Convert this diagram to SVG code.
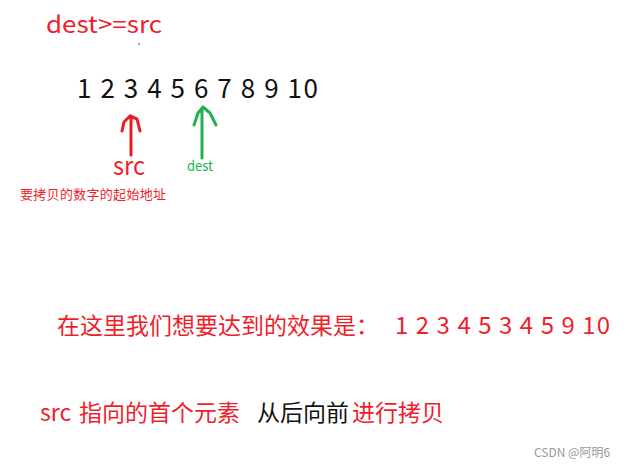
<svg xmlns="http://www.w3.org/2000/svg" width="629" height="468" viewBox="0 0 629 468">
<style>
text{font-family:"Noto Sans CJK SC","Noto Sans",sans-serif}
.red{fill:#f01e2c}
.blk{fill:#111}
.arr{fill:none;stroke-width:3;stroke-linecap:round;stroke-linejoin:round}
</style>
<rect width="629" height="468" fill="#fff"/>
<g id="title"><text class="red" x="46" y="33" font-size="23" textLength="116" lengthAdjust="spacingAndGlyphs">dest&gt;=src</text></g>
<circle cx="139" cy="44" r="0.8" fill="#333"/>
<g id="numbers"><text class="blk" x="77" y="98" font-size="26" textLength="241" lengthAdjust="spacing">1 2 3 4 5 6 7 8 9 10</text></g>
<g id="connectors">
<path class="arr" stroke="#ed1c24" d="M131 155V116M122 131L124 122L130 116L137 119L140 131"/>
<path class="arr" stroke="#22b14c" d="M202 158V108M194 125L198 113L203 107L210 113L216 125"/>
</g>
<g id="src"><text class="red" x="113" y="175" font-size="26" textLength="32" lengthAdjust="spacingAndGlyphs">src</text></g>
<g id="dest"><text x="187" y="171" font-size="14" fill="#22b14c" textLength="26" lengthAdjust="spacingAndGlyphs">dest</text></g>
<g id="note"><text class="red" x="20" y="199" font-size="13" textLength="146">要拷贝的数字的起始地址</text></g>
<g id="effect">
<text class="red" x="57" y="334" font-size="23">在这里我们想要达到的效果是：</text>
<text class="red" x="395" y="334" font-size="24" textLength="215" lengthAdjust="spacing">1 2 3 4 5 3 4 5 9 10</text>
</g>
<g id="desc"><text x="40" y="421" font-size="23"><tspan class="red">src</tspan><tspan class="red" x="79">指向的首个元素</tspan><tspan class="blk" x="257">从后向前</tspan><tspan class="red" x="352">进行拷贝</tspan></text></g>
<text x="534" y="457" font-size="12" fill="#999">CSDN @阿明6</text>
</svg>
